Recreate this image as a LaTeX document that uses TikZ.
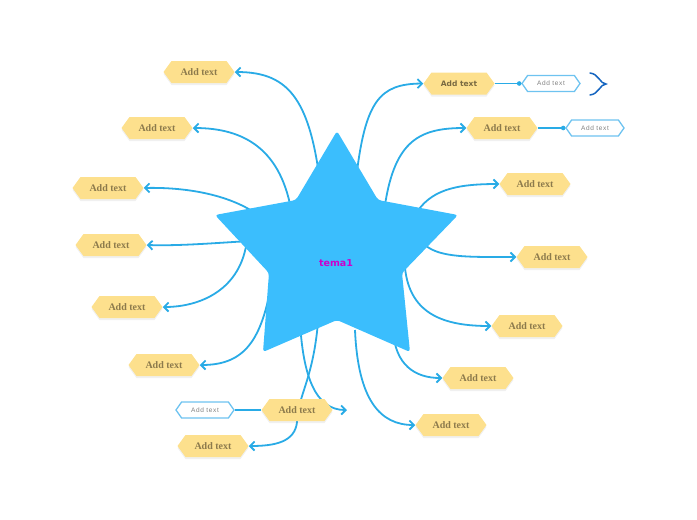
\documentclass[tikz,border=0pt]{standalone}
\usepackage{fontspec}
\setmainfont{Liberation Serif}
\newfontfamily\hexfont{Liberation Serif}
\newfontfamily\heavyfont{DejaVu Sans}
\newfontfamily\smallfont[LetterSpace=10]{Liberation Sans}
\usetikzlibrary{shapes.symbols,arrows.meta,shadows}
\definecolor{connblue}{RGB}{41,171,230}
\definecolor{starblue}{RGB}{59,190,253}
\definecolor{hexfill}{RGB}{253,224,141}
\definecolor{hextext}{RGB}{140,122,76}
\definecolor{heavytext}{RGB}{120,105,65}
\definecolor{smallline}{RGB}{110,195,240}
\definecolor{smalltext}{RGB}{130,130,130}
\definecolor{magentatext}{RGB}{204,0,204}
\definecolor{bracketblue}{RGB}{21,101,192}
\pgfdeclarelayer{bg}\pgfsetlayers{bg,main}
\tikzset{
 hexbox/.style={signal, signal to=west and east, signal pointer angle=108, fill=hexfill,
   minimum width=71pt, minimum height=22pt, inner sep=0pt,
   font=\hexfont\bfseries\fontsize{10}{10}\selectfont, text=hextext,
   drop shadow={shadow xshift=0pt, shadow yshift=-2pt, opacity=0.12}},
 heavybox/.style={hexbox, font=\heavyfont\bfseries\fontsize{7.5}{7.5}\selectfont, text=heavytext},
 smallbox/.style={signal, signal to=west and east, signal pointer angle=110, fill=white,
   draw=smallline, line width=1.3pt, minimum width=58pt, minimum height=16pt, inner sep=0pt,
   font=\smallfont\fontsize{6.5}{6.5}\selectfont, text=smalltext},
 connector/.style={draw=connblue, line width=1.8pt, -{Straight Barb[length=4.5pt,width=9pt]}},
 linkline/.style={draw=connblue, line width=1.2pt}
}
\begin{document}
\begin{tikzpicture}[x=1pt,y=-1pt]
\useasboundingbox (0,0) rectangle (697,520);
% star
\fill[starblue, rounded corners=3pt] (337,131) -- (378,200) -- (458,215) -- (402,273) -- (410,352)
  -- (337,320) -- (263,352) -- (269,273) -- (215,215) -- (296,200) -- cycle;
\node[font=\heavyfont\bfseries\fontsize{9.5}{9.5}\selectfont, text=magentatext] (tema) at (336,263) {tema1};
% nodes
\node[hexbox] (L1) at (199,72) {Add text};
\node[hexbox] (L2) at (157,128) {Add text};
\node[hexbox] (L3) at (108,188) {Add text};
\node[hexbox] (L4) at (111,245) {Add text};
\node[hexbox] (L5) at (127,307) {Add text};
\node[hexbox] (L6) at (164,365) {Add text};
\node[hexbox] (B1) at (297,410) {Add text};
\node[hexbox] (B2) at (213,446) {Add text};
\node[heavybox] (R1) at (459,83.5) {Add text};
\node[hexbox] (R2) at (502,128) {Add text};
\node[hexbox] (R3) at (535,184) {Add text};
\node[hexbox] (R4) at (552,257) {Add text};
\node[hexbox] (R5) at (527,326) {Add text};
\node[hexbox] (R6) at (478,378) {Add text};
\node[hexbox] (R7) at (451,425) {Add text};
\node[smallbox] (Bs) at (205,410) {Add text};
\node[smallbox] (Rs1) at (551,83.5) {Add text};
\node[smallbox] (Rs2) at (595,128) {Add text};
% connector start points (inside the star)
\coordinate (sL1) at (322,200);
\coordinate (sL2) at (292,215);
\coordinate (sL3) at (258,215);
\coordinate (sL4) at (250,241);
\coordinate (sL5) at (247,240);
\coordinate (sL6) at (272,280);
\coordinate (sB1) at (300,322);
\coordinate (sB2) at (318,322);
\coordinate (sR1) at (356,180);
\coordinate (sR2) at (385,205);
\coordinate (sR3) at (415,215);
\coordinate (sR4) at (425,245);
\coordinate (sR5) at (405,268);
\coordinate (sR6) at (393,330);
\coordinate (sR7) at (355,330);
\coordinate (bEnd) at (347,410);
\coordinate (brk) at (606,84);
\begin{pgfonlayer}{bg}
\draw[connector] (sL1) .. controls (312,100) and (290,72) .. (L1.east);
\draw[connector] (sL2) .. controls (282,150) and (245,128) .. (L2.east);
\draw[connector] (sL3) .. controls (232,196) and (190,187) .. (L3.east);
\draw[connector] (sL4) .. controls (215,243) and (180,246) .. (L4.east);
\draw[connector] (sL5) .. controls (241,290) and (200,307) .. (L5.east);
\draw[connector] (sL6) .. controls (262,340) and (245,365) .. (L6.east);
\draw[connector] (sB1) .. controls (303,375) and (315,410) .. (bEnd);
\draw[connector] (sB2) .. controls (313,380) and (298,395) .. (297,422) .. controls (295,442) and (275,446) .. (B2.east);
\draw[connector] (sR1) .. controls (365,100) and (380,84) .. (R1.west);
\draw[connector] (sR2) .. controls (395,140) and (420,128) .. (R2.west);
\draw[connector] (sR3) .. controls (430,190) and (455,184) .. (R3.west);
\draw[connector] (sR4) .. controls (440,258) and (470,257) .. (R4.west);
\draw[connector] (sR5) .. controls (410,315) and (445,326) .. (R5.west);
\draw[connector] (sR6) .. controls (395,365) and (415,378) .. (R6.west);
\draw[connector] (sR7) .. controls (358,400) and (380,425) .. (R7.west);
\draw[linkline] (B1.west) -- (Bs.east);
\draw[linkline] (R1.east) -- (Rs1.west);
\draw[linkline] (R2.east) -- (Rs2.west);
\end{pgfonlayer}
\fill[connblue] ([xshift=-2pt]Rs1.west) circle (2.3pt);
\fill[connblue] ([xshift=-2pt]Rs2.west) circle (2.3pt);
% collapse bracket
\draw[bracketblue, line width=1.5pt, line cap=round] (590,73) .. controls (599,74) and (600,84) .. (brk)
  .. controls (600,84) and (599,94) .. (590,95);
\end{tikzpicture}
\end{document}
